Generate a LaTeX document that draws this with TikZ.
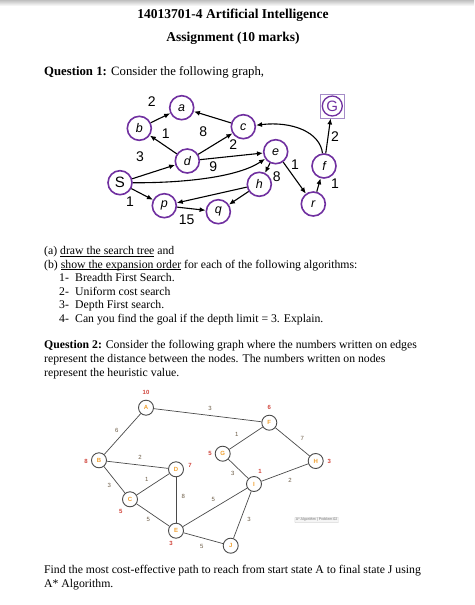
\documentclass[tikz,border=0pt]{standalone}
\usepackage{fontspec}
\setmainfont{Liberation Serif}
\setsansfont{Liberation Sans}
\usepackage{tikz}
\usetikzlibrary{arrows.meta}
\definecolor{gpurple}{HTML}{7030A0}
\definecolor{gbox}{HTML}{A58CC8}
\definecolor{hgrey}{HTML}{4A4A4A}
\definecolor{horange}{HTML}{F0A030}
\definecolor{hred}{HTML}{D0453C}
\definecolor{hbrown}{HTML}{6B5B45}
\newcommand{\undl}[1]{\setbox0=\hbox{#1}\rlap{\rule[-1.8pt]{\wd0}{0.45pt}}\box0\relax}
\tikzset{
  txt/.style={anchor=base west, inner sep=0pt, font=\fontsize{11.75}{13.5}\selectfont},
  head/.style={anchor=base, inner sep=0pt, font=\bfseries\fontsize{13.5}{15}\selectfont},
  gnode/.style={circle, draw=gpurple, line width=1.6pt, minimum size=24pt, inner sep=0pt, font=\sffamily\itshape\fontsize{12.5}{12.5}\selectfont},
  garc/.style={-{Latex[length=6pt,width=5pt]}, line width=1.1pt},
  glab/.style={inner sep=0pt, font=\sffamily\fontsize{14}{14}\selectfont},
  hnode/.style={circle, draw=hgrey, line width=0.9pt, fill=white, minimum size=15pt, inner sep=0pt, text=horange, font=\sffamily\bfseries\fontsize{6}{6}\selectfont},
  hedge/.style={draw=hgrey, line width=0.7pt},
  hval/.style={inner sep=0pt, text=hred, font=\sffamily\bfseries\fontsize{6}{6}\selectfont},
  hw/.style={inner sep=0pt, text=hbrown, font=\sffamily\fontsize{6}{6}\selectfont}
}
\begin{document}
\begin{tikzpicture}[x=1pt,y=-1pt]
\useasboundingbox (0,0) rectangle (474,605);
\shade[top color=black!25, bottom color=white] (0,0) rectangle (474,6);

%%% text

% heading
\node[head] (title) at (233,18) {14013701-4 Artificial Intelligence};
\node[head] (assign) at (233,41) {Assignment (10 marks)};

% question 1
\node[txt, font=\fontsize{12.75}{13.5}\selectfont] (q1) at (44,75.5) {\textbf{Question 1:} Consider the following graph,};
\node[txt] (qa) at (44,254.5) {(a) \undl{draw the search tree} and};
\node[txt] (qb) at (44,268) {(b) \undl{show the expansion order} for each of the following algorithms:};
\node[txt] (it1) at (59,281.5) {\makebox[16pt][l]{1-}Breadth First Search.};
\node[txt] (it2) at (59,295) {\makebox[16pt][l]{2-}Uniform cost search};
\node[txt] (it3) at (59,308.5) {\makebox[16pt][l]{3-}Depth First search.};
\node[txt] (it4) at (59,322) {\makebox[16pt][l]{4-}Can you find the goal if the depth limit = 3. Explain.};

% question 2
\node[txt] (q2a) at (44,348.5) {\textbf{Question 2:} Consider the following graph where the numbers written on edges};
\node[txt] (q2b) at (44,362) {represent the distance between the nodes. The numbers written on nodes};
\node[txt] (q2c) at (44,376) {represent the heuristic value.};

% final
\node[txt] (fin1) at (44,573.5) {Find the most cost-effective path to reach from start state A to final state J using};
\node[txt] (fin2) at (44,587) {A* Algorithm.};

%%% graph 1

% nodes
\node[gnode] (a) at (181.7,107.7) {a};
\node[gnode] (b) at (139.3,128.3) {b};
\node[gnode] (c) at (243.3,126.7) {c};
\node[gnode] (d) at (187.3,161) {d};
\node[gnode] (e) at (275.7,151.7) {e};
\node[gnode, font=\sffamily\fontsize{15}{15}\selectfont] (S) at (120,182.7) {S};
\node[gnode] (f) at (324,166) {f};
\node[gnode] (h) at (259.3,184.3) {h};
\node[gnode] (p) at (164.3,205.7) {p};
\node[gnode] (q) at (218.3,211.7) {q};
\node[gnode] (r) at (313.3,204) {r};
\node[gnode, minimum size=20pt, line width=1.3pt, text=gpurple, font=\sffamily\fontsize{15}{15}\selectfont] (G) at (332.3,106) {G};
\node[draw=gbox, line width=0.8pt, minimum size=24pt, inner sep=0pt] (Gbox) at (G) {};

% arcs
\draw[garc] (b) -- (a);
\draw[garc] (d) -- (b);
\draw[garc] (c) -- (a);
\draw[garc] (d) -- (c);
\draw[garc] (S) -- (d);
\draw[garc] (d) -- (e);
\draw[garc] (S) .. controls (185,183) and (238,177) .. (e);
\draw[garc] (S) -- (p);
\draw[garc] (p) -- (q);
\draw[garc] (h) -- (p);
\draw[garc] (h) -- (q);
\draw[garc] (e) -- (h);
\draw[garc] (e) -- (r);
\draw[garc] (r) -- (f);
\draw[garc] (f) -- (Gbox);
\draw[garc] (f) .. controls (320,132) and (292,121) .. (c);

% costs
\node[glab] (wba) at (151.7,101.7) {2};
\node[glab] (wdb) at (165.7,134) {1};
\node[glab] (wca) at (203.3,131.7) {8};
\node[glab] (wdc) at (233.3,145) {2};
\node[glab] (wSd) at (140,156.7) {3};
\node[glab] (wde) at (213.3,166.7) {9};
\node[glab] (wSp) at (130,201.7) {1};
\node[glab] (wpq) at (186.7,220) {15};
\node[glab] (weh) at (276.7,176.7) {8};
\node[glab] (wer) at (295,165) {1};
\node[glab] (wrf) at (335,183.3) {1};
\node[glab] (wfG) at (335,136.7) {2};

%%% graph 2

% nodes
\node[hnode] (A) at (146,407.7) {A};
\node[hnode] (F) at (269.3,422.7) {F};
\node[hnode] (B) at (99,460.3) {B};
\node[hnode] (D) at (176,469.3) {D};
\node[hnode] (G2) at (222.7,453.7) {G};
\node[hnode] (H) at (315.7,461) {H};
\node[hnode] (C) at (130,499.3) {C};
\node[hnode] (I) at (254,484) {I};
\node[hnode] (E) at (176,530.7) {E};
\node[hnode] (J) at (230.7,545.7) {J};

% edges
\draw[hedge] (A) -- (F);
\draw[hedge] (A) -- (B);
\draw[hedge] (B) -- (D);
\draw[hedge] (B) -- (C);
\draw[hedge] (C) -- (D);
\draw[hedge] (D) -- (E);
\draw[hedge] (C) -- (E);
\draw[hedge] (E) -- (I);
\draw[hedge] (E) -- (J);
\draw[hedge] (F) -- (G2);
\draw[hedge] (F) -- (H);
\draw[hedge] (G2) -- (I);
\draw[hedge] (I) -- (H);
\draw[hedge] (I) -- (J);

% distances
\node[hw] (dAF) at (210,408.3) {3};
\node[hw] (dAB) at (116.7,430.7) {6};
\node[hw] (dBD) at (140,457.3) {2};
\node[hw] (dBC) at (109.3,485) {3};
\node[hw] (dCD) at (146.7,479.3) {1};
\node[hw] (dDE) at (183.3,496.7) {8};
\node[hw] (dCE) at (148.3,519.3) {5};
\node[hw] (dEI) at (213.3,499.3) {5};
\node[hw] (dEJ) at (201.7,546.7) {5};
\node[hw] (dFG) at (236.7,434) {1};
\node[hw] (dFH) at (302.3,438.3) {7};
\node[hw] (dGI) at (232.7,473.3) {3};
\node[hw] (dIH) at (290,480.7) {2};
\node[hw] (dIJ) at (249,519.3) {3};

% heuristics
\node[hval] (hA) at (146,392.3) {10};
\node[hval] (hF) at (269.3,407.3) {6};
\node[hval] (hB) at (86,461) {8};
\node[hval] (hD) at (190,465) {7};
\node[hval] (hG) at (210,453.3) {5};
\node[hval] (hH) at (329.3,461) {3};
\node[hval] (hI) at (260,471.7) {1};
\node[hval] (hC) at (120.7,511.7) {5};
\node[hval] (hE) at (171,543.3) {3};

% caption
\node[draw=black!15, fill=black!4, rounded corners=0.5pt, inner sep=1pt, text=black!55, font=\sffamily\fontsize{3.6}{3.6}\selectfont] (cap) at (316.7,520) {A* Algorithm | Problem-02};

\end{tikzpicture}
\end{document}
